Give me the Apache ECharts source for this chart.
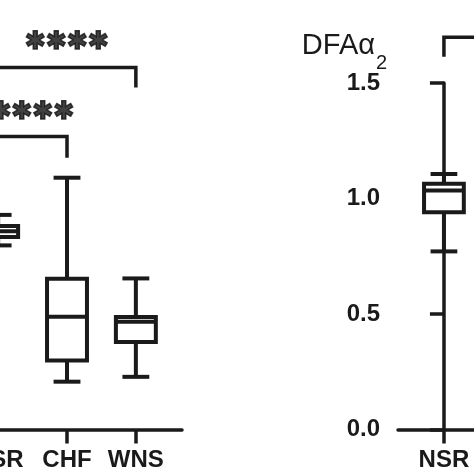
<!DOCTYPE html>
<html><head><meta charset="utf-8">
<script src="https://cdn.jsdelivr.net/npm/echarts@6/dist/echarts.min.js"></script>
<style>html,body{margin:0;padding:0;background:#fff}#c{width:474px;height:474px}</style>
</head><body><div id="c"></div>
<script>
// ---- data ----
const categories = ['NSR', 'CHF', 'WNS'];
const yTicks = [0, 0.5, 1.0, 1.5];
// left panel (DFAα1) – its y axis lies outside the crop
const leftMin    = [0.797, 0.207, 0.228];
const leftQ1     = [0.833, 0.299, 0.379];
const leftMedian = [0.858, 0.488, 0.466];
const leftQ3     = [0.881, 0.653, 0.487];
const leftMax    = [0.929, 1.090, 0.654];
// right panel (DFAα2) – only NSR is inside the crop
const rightMin    = [0.771];
const rightQ1     = [0.940];
const rightMedian = [1.035];
const rightQ3     = [1.064];
const rightMax    = [1.106];
// significance brackets: [fromIdx, toIdx, barLevel, dropLevel, starLevel]
const leftBrackets  = [[0, 2, 1.567, 1.480, 1.675], [0, 1, 1.268, 1.176, 1.372]];
const rightBrackets = [[0, 2, 1.698, 1.614, null]];
const starText = '✱✱✱✱';
const titleMain = 'DFAα';
const titleSubs = ['1', '2'];

// ---- styling ----
const INK = '#1a1a1a';
const FONT = "'Liberation Sans', Arial, sans-serif";

function boxData(mn, q1, md, q3, mx) {
  return mn.map((v, i) => [i, mn[i], q1[i], md[i], q3[i], mx[i]]);
}
function renderBox(params, api) {
  const i = api.value(0);
  const unit = api.size([1, 0])[0];
  const half = unit * 0.29, cap = unit * 0.195;
  const pMin = api.coord([i, api.value(1)]);
  const pQ1 = api.coord([i, api.value(2)]);
  const pMd = api.coord([i, api.value(3)]);
  const pQ3 = api.coord([i, api.value(4)]);
  const pMax = api.coord([i, api.value(5)]);
  const x = pMd[0];
  const st = { stroke: INK, lineWidth: 4, fill: null };
  const ln = (x1, y1, x2, y2) => ({ type: 'line', shape: { x1, y1, x2, y2 }, style: st });
  return {
    type: 'group',
    children: [
      ln(x, pQ3[1], x, pMax[1]),
      ln(x, pQ1[1], x, pMin[1]),
      ln(x - cap, pMax[1], x + cap, pMax[1]),
      ln(x - cap, pMin[1], x + cap, pMin[1]),
      { type: 'rect', shape: { x: x - half, y: pQ3[1], width: half * 2, height: pQ1[1] - pQ3[1] },
        style: { stroke: INK, lineWidth: 4, fill: '#fff' } },
      ln(x - half, pMd[1], x + half, pMd[1])
    ]
  };
}
function bracketSeries(list, idx) {
  const out = [];
  list.forEach(b => {
    out.push({
      type: 'line', xAxisIndex: idx, yAxisIndex: idx, clip: false, symbol: 'none', silent: true,
      lineStyle: { color: INK, width: 3.5, cap: 'butt', join: 'miter' },
      data: [[b[0], b[3]], [b[0], b[2]], [b[1], b[2]], [b[1], b[3]]]
    });
    if (b[4] != null) {
      out.push({
        type: 'scatter', xAxisIndex: idx, yAxisIndex: idx, clip: false, symbolSize: 1,
        itemStyle: { color: 'rgba(0,0,0,0)' }, silent: true,
        label: { show: true, position: 'inside', formatter: starText, color: '#111',
                 textBorderColor: '#111', textBorderWidth: 1.6,
                 fontFamily: "'DejaVu Sans', sans-serif", fontWeight: 'bold', fontSize: 25 },
        data: [[(b[0] + b[1]) / 2, b[4]]]
      });
    }
  });
  return out;
}
function xAxisCfg(gi) {
  return {
    gridIndex: gi, type: 'value', min: -0.67, max: 2.67,
    axisLine: { show: true, onZero: false, lineStyle: { color: INK, width: 3.5 } },
    axisTick: { show: true, length: 14, customValues: [0, 1, 2], lineStyle: { color: INK, width: 3.5 } },
    axisLabel: { customValues: [0, 1, 2], margin: 19, fontSize: 24, fontWeight: 'bold', color: INK,
                 fontFamily: FONT, hideOverlap: false, formatter: v => categories[Math.round(v)] || '' },
    splitLine: { show: false }
  };
}
function yAxisCfg(gi) {
  return {
    gridIndex: gi, type: 'value', min: yTicks[0], max: yTicks[yTicks.length - 1], interval: 0.5,
    axisLine: { show: true, lineStyle: { color: INK, width: 3.5 } },
    axisTick: { show: true, length: 14, lineStyle: { color: INK, width: 3.5 } },
    axisLabel: { margin: 18, fontSize: 24, fontWeight: 'bold', color: INK, fontFamily: FONT,
                 formatter: v => v.toFixed(1) },
    splitLine: { show: false }
  };
}
function titleCfgs(sub, anchorX) {
  return [
    { text: titleMain, left: anchorX, top: 31, textAlign: 'right', padding: 0,
      textStyle: { fontSize: 29, fontWeight: 'normal', fontFamily: FONT, color: INK } },
    { text: sub, left: anchorX + 1, top: 53, padding: 0,
      textStyle: { fontSize: 20, fontWeight: 'normal', fontFamily: FONT, color: INK } }
  ];
}

const chart = echarts.init(document.getElementById('c'), null, { renderer: 'canvas' });
chart.setOption({
  backgroundColor: '#fff',
  animation: false,
  title: titleCfgs(titleSubs[0], -70).concat(titleCfgs(titleSubs[1], 375)),
  grid: [
    { left: -48, width: 230, top: 83, bottom: 44.5, containLabel: false, outerBoundsMode: 'none' },
    { left: 398, width: 229, top: 83, bottom: 44.5, containLabel: false, outerBoundsMode: 'none' }
  ],
  xAxis: [xAxisCfg(0), xAxisCfg(1)],
  yAxis: [yAxisCfg(0), yAxisCfg(1)],
  series: [
    { type: 'custom', xAxisIndex: 0, yAxisIndex: 0, renderItem: renderBox, clip: false,
      encode: { x: 0, y: [1, 2, 3, 4, 5] },
      data: boxData(leftMin, leftQ1, leftMedian, leftQ3, leftMax) },
    { type: 'custom', xAxisIndex: 1, yAxisIndex: 1, renderItem: renderBox, clip: false,
      encode: { x: 0, y: [1, 2, 3, 4, 5] },
      data: boxData(rightMin, rightQ1, rightMedian, rightQ3, rightMax) }
  ].concat(bracketSeries(leftBrackets, 0), bracketSeries(rightBrackets, 1))
});
</script></body></html>
